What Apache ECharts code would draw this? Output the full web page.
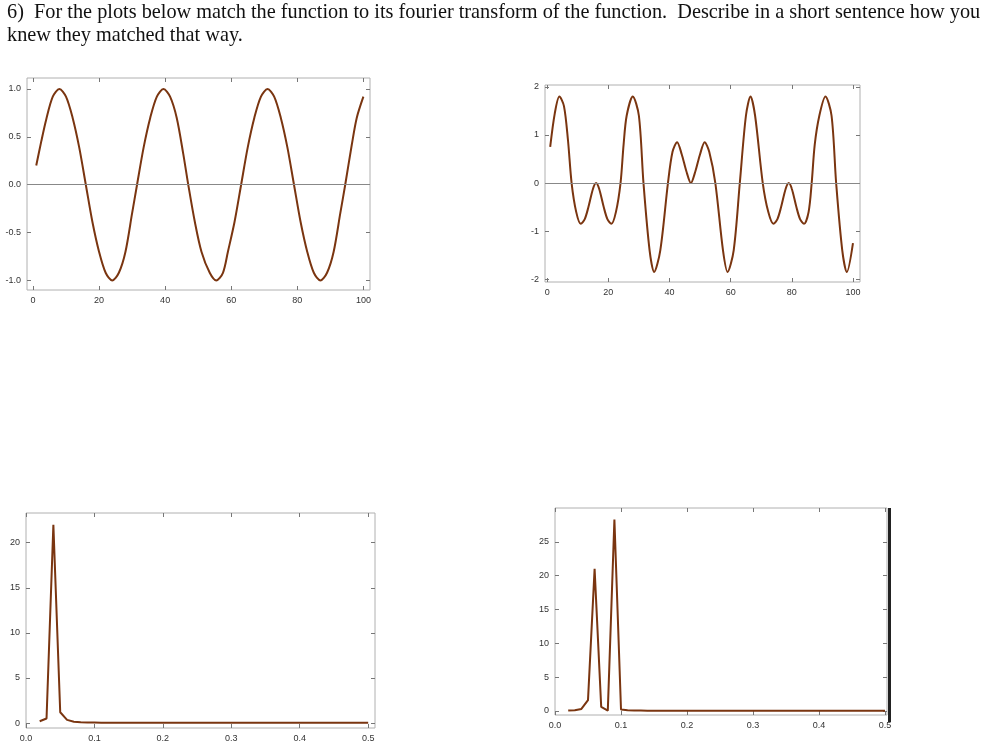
<!DOCTYPE html>
<html>
<head>
<meta charset="utf-8">
<script src="https://cdn.jsdelivr.net/npm/echarts@6/dist/echarts.min.js"></script>
<style>html,body{margin:0;padding:0;background:#fff;}#chart{width:991px;height:745px;}</style>
</head>
<body>
<div id="chart"></div>
<script>
// top-left: single sine, [x, y]
var sineA = [[1,0.2],[2.5,0.45],[4,0.68],[6,0.92],[8,1],[10,0.92],[12,0.7],[14,0.39],[16,0],[18,-0.39],[20,-0.7],[22,-0.92],[24,-1],[26,-0.92],[28,-0.7],[30,-0.3],[31.5,0],[33.5,0.39],[35.5,0.7],[37.5,0.92],[39.5,1],[41.5,0.92],[43.5,0.7],[45.5,0.32],[47,0],[49,-0.39],[51,-0.7],[53.5,-0.92],[55.5,-1],[57.5,-0.92],[59,-0.7],[61,-0.39],[63,0],[65,0.39],[67,0.7],[69,0.92],[71,1],[73,0.92],[75,0.7],[77,0.39],[79,0],[81,-0.39],[83,-0.7],[85,-0.92],[87,-1],[89,-0.92],[91,-0.7],[93,-0.3],[94.5,0],[96.5,0.42],[98,0.7],[100,0.92]];
// top-right: sum of two sines
var sineB = [[1,0.75],[2.5,1.45],[4,1.8],[5.5,1.6],[6.8,0.9],[8,0],[9.5,-0.6],[11,-0.85],[12.3,-0.75],[13.5,-0.5],[15,-0.12],[16,0],[17,-0.12],[18.5,-0.5],[19.7,-0.75],[21,-0.85],[22.5,-0.6],[24,0],[25,0.8],[26,1.4],[28,1.8],[30,1.4],[31.5,0],[33.5,-1.4],[35,-1.85],[37,-1.4],[39.5,0],[41,0.65],[42.5,0.85],[44,0.6],[45.5,0.25],[47,0],[48.5,0.25],[50,0.6],[51.5,0.85],[53,0.65],[55,0],[57.5,-1.4],[59,-1.85],[61,-1.4],[63,0],[65,1.4],[66.5,1.8],[68,1.4],[70.5,0],[72.3,-0.6],[74,-0.85],[75.3,-0.75],[76.5,-0.5],[78,-0.12],[79,0],[80,-0.12],[81.5,-0.5],[82.7,-0.75],[84,-0.85],[85.5,-0.6],[86.5,0],[87.5,0.8],[89,1.4],[91,1.8],[93,1.4],[94.5,0],[96.5,-1.4],[98,-1.85],[100,-1.25]];
// bottom: spectra, frequency 0.02 .. 0.50 step 0.01
var freqs = [0.02,0.03,0.04,0.05,0.06,0.07,0.08,0.09,0.10,0.11,0.12,0.13,0.14,0.15,0.16,0.17,0.18,0.19,0.20,0.21,0.22,0.23,0.24,0.25,0.26,0.27,0.28,0.29,0.30,0.31,0.32,0.33,0.34,0.35,0.36,0.37,0.38,0.39,0.40,0.41,0.42,0.43,0.44,0.45,0.46,0.47,0.48,0.49,0.50];
var specA = [0.2,0.5,22,1.2,0.35,0.15,0.09,0.06,0.05,0.04,0.04,0.03,0.03,0.03,0.03,0.03,0.02,0.02,0.02,0.02,0.02,0.02,0.02,0.02,0.02,0.02,0.02,0.02,0.02,0.02,0.02,0.02,0.02,0.02,0.02,0.02,0.02,0.02,0.02,0.02,0.02,0.02,0.02,0.02,0.02,0.02,0.02,0.02,0.02];
var specB = [0.05,0.1,0.3,1.6,21,0.6,0.05,28.3,0.2,0.1,0.06,0.05,0.04,0.04,0.03,0.03,0.03,0.03,0.03,0.03,0.03,0.03,0.03,0.03,0.03,0.03,0.03,0.03,0.03,0.03,0.03,0.03,0.03,0.03,0.03,0.03,0.03,0.03,0.03,0.03,0.03,0.03,0.03,0.03,0.03,0.03,0.03,0.03,0.03];
var xTicksTop = [0,20,40,60,80,100];
var yTicksA = [-1,-0.5,0,0.5,1];
var yTicksB = [-2,-1,0,1,2];
var xTicksBottom = [0,0.1,0.2,0.3,0.4,0.5];
var yTicksC = [0,5,10,15,20];
var yTicksD = [0,5,10,15,20,25];

var lineColor = '#7a3510';
var frameColor = '#b0b0b0';

function makeAxes(gi, min, max, ticks, fmt, pos1, pos2) {
  var base = {
    type: 'value', gridIndex: gi, min: min, max: max,
    axisLine: { show: false, onZero: false }, splitLine: { show: false },
    axisTick: { inside: true, length: 4, customValues: ticks, lineStyle: { color: '#777' } }
  };
  return [
    Object.assign({}, base, { position: pos1,
      axisLabel: { customValues: ticks, formatter: fmt, color: '#333', fontSize: 9, fontFamily: 'Liberation Sans', margin: 6 } }),
    Object.assign({}, base, { position: pos2, axisLabel: { show: false } })
  ];
}
var f0 = function (v) { return String(v); };
var f1 = function (v) { return v.toFixed(1); };

var grids = [
  { left: 27, top: 78, width: 343, height: 212 },
  { left: 545, top: 85, width: 315, height: 197 },
  { left: 26, top: 513, width: 349, height: 215 },
  { left: 555, top: 508, width: 332, height: 207 }
].map(function (g) { return Object.assign(g, { show: true, borderColor: frameColor, borderWidth: 1, backgroundColor: 'transparent' }); });

var xs = [].concat(
  makeAxes(0, -1.8, 102, xTicksTop, f0, 'bottom', 'top'),
  makeAxes(1, -0.7, 102.3, xTicksTop, f0, 'bottom', 'top'),
  makeAxes(2, 0, 0.51, xTicksBottom, f1, 'bottom', 'top'),
  makeAxes(3, 0, 0.503, xTicksBottom, f1, 'bottom', 'top')
);
var ys = [].concat(
  makeAxes(0, -1.1, 1.115, yTicksA, f1, 'left', 'right'),
  makeAxes(1, -2.06, 2.04, yTicksB, f0, 'left', 'right'),
  makeAxes(2, -0.55, 23.3, yTicksC, f0, 'left', 'right'),
  makeAxes(3, -0.6, 30, yTicksD, f0, 'left', 'right')
);

function zeroLine() {
  return { silent: true, symbol: 'none', label: { show: false },
    lineStyle: { color: '#888', type: 'solid', width: 1 }, data: [{ yAxis: 0 }] };
}
function pairs(x, y) { return x.map(function (v, i) { return [v, y[i]]; }); }

var myChart = echarts.init(document.getElementById('chart'));
var option = {
  animation: false,
  grid: grids,
  xAxis: xs,
  yAxis: ys,
  graphic: [
    { type: 'text', left: 7, top: 3, style: { text: '6)  For the plots below match the function to its fourier transform of the function.  Describe in a short sentence how you', font: '20.3px "Liberation Serif"', fill: '#111' } },
    { type: 'text', left: 7, top: 26, style: { text: 'knew they matched that way.', font: '20.3px "Liberation Serif"', fill: '#111' } },
    { type: 'rect', shape: { x: 888, y: 508, width: 3, height: 214 }, style: { fill: '#222' } }
  ],
  series: [
    { type: 'line', xAxisIndex: 0, yAxisIndex: 0, data: sineA, smooth: 0.3, showSymbol: false, lineStyle: { color: lineColor, width: 2 }, markLine: zeroLine(), z: 3 },
    { type: 'line', xAxisIndex: 2, yAxisIndex: 2, data: sineB, smooth: 0.3, showSymbol: false, lineStyle: { color: lineColor, width: 2 }, markLine: zeroLine(), z: 3 },
    { type: 'line', xAxisIndex: 4, yAxisIndex: 4, data: pairs(freqs, specA), showSymbol: false, lineStyle: { color: lineColor, width: 2 } },
    { type: 'line', xAxisIndex: 6, yAxisIndex: 6, data: pairs(freqs, specB), showSymbol: false, lineStyle: { color: lineColor, width: 2 } }
  ]
};
option && myChart.setOption(option);
</script>
</body>
</html>
